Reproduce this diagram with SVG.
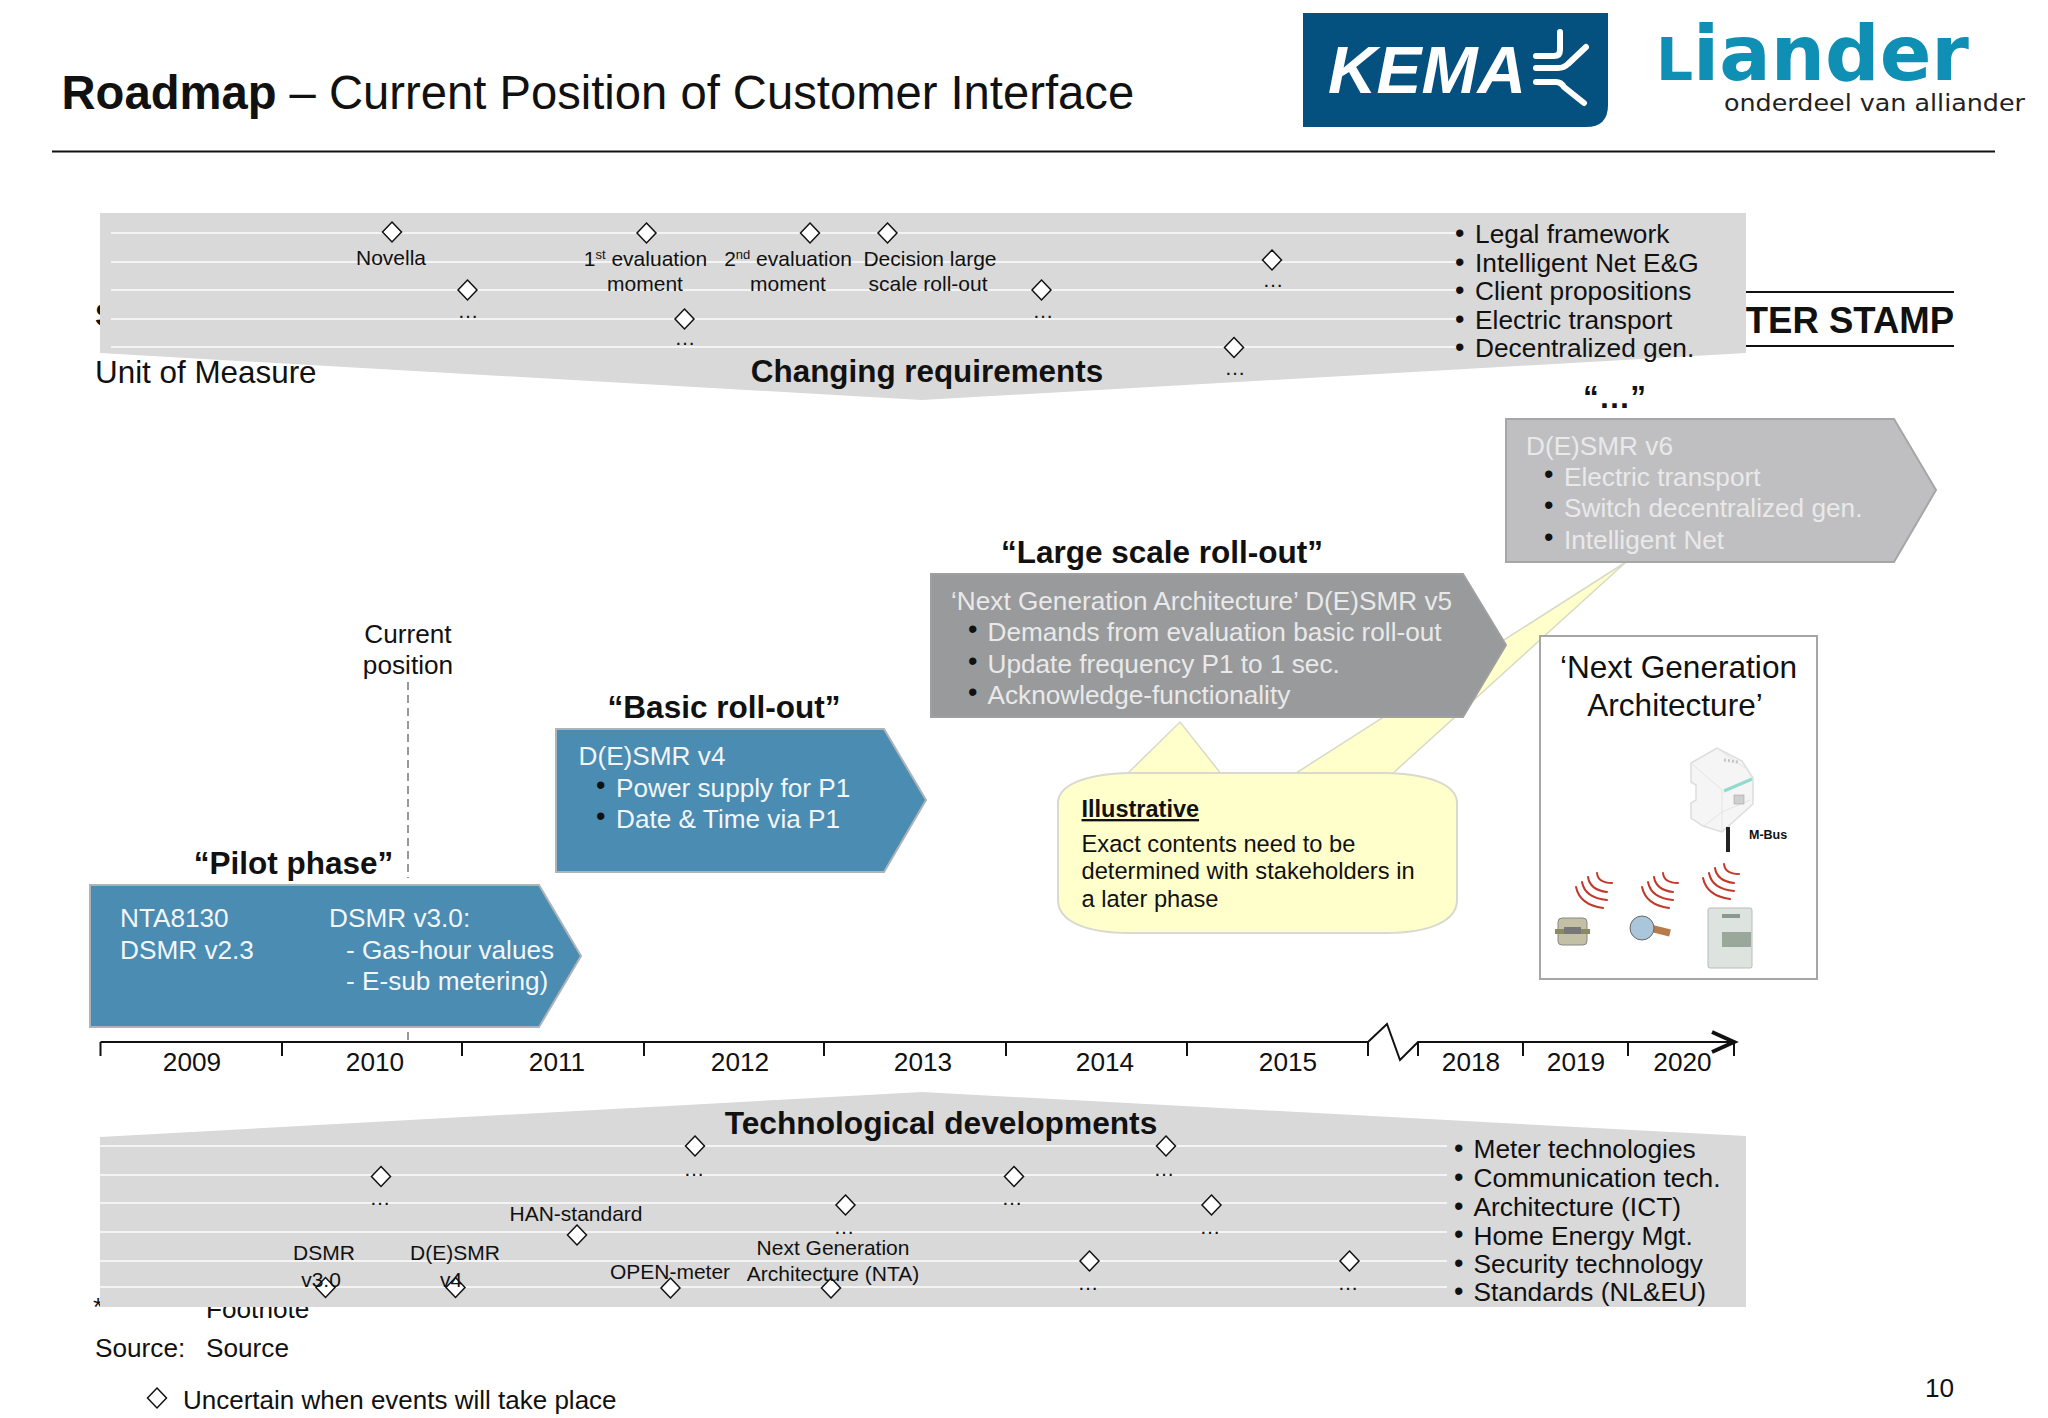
<svg xmlns="http://www.w3.org/2000/svg" width="2048" height="1418" viewBox="0 0 2048 1418">
<defs>
<style>
text{font-family:"Liberation Sans",Arial,sans-serif;fill:#111}
.t26{font-size:26.2px}.t27{font-size:26.3px}.t21{font-size:21px}.t24{font-size:23.7px}
.b{font-weight:bold}.m{text-anchor:middle}
.w{fill:#f2f6f9}.l{fill:#e9e9e9}
.band{fill:#d9d9da}
.rule{stroke:#f4f4f4;stroke-width:2;fill:none}
.dia{fill:#fff;stroke:#111;stroke-width:1.5}
.ax{stroke:#111;stroke-width:2;fill:none}
.arc{stroke:#c0392b;stroke-width:2;fill:none;stroke-linecap:round}
.kema{stroke:#fff;stroke-width:6;fill:none;stroke-linecap:round;stroke-linejoin:round}
.blue{fill:#4a8cb2;stroke:#adb3b7;stroke-width:2}
.bul{font-size:27px}
</style>
<polygon id="d" class="dia" points="0,-10 9.5,0 0,10 -9.5,0"/>
</defs>
<rect width="2048" height="1418" fill="#fff"/>

<g id="title"><text x="61.500" y="109" font-size="47.200"><tspan class="b">Roadmap</tspan> – Current Position of Customer Interface</text>
<line x1="52" y1="151.500" x2="1995" y2="151.500" stroke="#111" stroke-width="2"/></g>

<g id="logo-kema">
<path d="M1303,13H1608V105Q1608,127 1586,127H1303Z" fill="#04507f"/>
<text x="1328" y="93" font-size="67" font-weight="bold" font-style="italic" style="fill:#fff" textLength="198" lengthAdjust="spacingAndGlyphs">KEMA</text>
<path class="kema" d="M1560,32V50Q1560,56 1554,56H1536"/>
<path class="kema" d="M1586,47L1568,64Q1564,68 1558,68H1536"/>
<path class="kema" d="M1536,82H1556Q1561,82 1564,87L1584,103"/>
</g>
<g id="logo-liander">
<text x="1656" y="80" font-size="76" font-weight="bold" style="font-family:'DejaVu Sans',sans-serif;fill:#0f8fb3" textLength="313" lengthAdjust="spacingAndGlyphs"><tspan font-size="58">L</tspan>iander</text>
<text x="1724" y="111" font-size="23" style="font-family:'DejaVu Sans',sans-serif;fill:#222" textLength="301" lengthAdjust="spacingAndGlyphs">onderdeel van alliander</text>
</g>

<g id="placeholders">
<text x="95" y="326" font-size="31" class="b">S</text>
<text x="95" y="383" font-size="31.400">Unit of Measure</text>
<line x1="1700" y1="292" x2="1954" y2="292" stroke="#111" stroke-width="2"/>
<line x1="1700" y1="346" x2="1954" y2="346" stroke="#111" stroke-width="2"/>
<text x="1954" y="333" font-size="36.500" class="b" text-anchor="end">TER STAMP</text>
<text x="93" y="1316" class="t26">*</text>
<text x="206" y="1318" class="t26">Footnote</text>
<text x="95" y="1357" class="t26">Source:</text>
<text x="206" y="1357" class="t26">Source</text>
</g>

<g id="changing-requirements">
<polygon class="band" points="100,213 1746,213 1746,353 922,400 100,353"/>
<path class="rule" d="M111,233H1456M111,262H1456M111,290H1456M111,319H1456M111,347H1456"/>
<use href="#d" x="392" y="232"/><use href="#d" x="646.500" y="233"/><use href="#d" x="810" y="233"/><use href="#d" x="887.500" y="233"/>
<use href="#d" x="467.500" y="290"/><use href="#d" x="684.500" y="319"/><use href="#d" x="1041.500" y="290"/><use href="#d" x="1272" y="260"/><use href="#d" x="1234" y="347.500"/>
<g class="t21">
<text x="391" y="265" class="m">Novella</text>
<text x="645.500" y="266" class="m">1<tspan font-size="13" dy="-7">st</tspan><tspan dy="7"> evaluation</tspan></text>
<text x="645" y="291" class="m">moment</text>
<text x="788" y="266" class="m">2<tspan font-size="13" dy="-7">nd</tspan><tspan dy="7"> evaluation</tspan></text>
<text x="788" y="291" class="m">moment</text>
<text x="930" y="266" class="m">Decision large</text>
<text x="928" y="291" class="m">scale roll-out</text>
<text x="468" y="318" class="m">…</text><text x="685" y="345" class="m">…</text><text x="1043" y="318" class="m">…</text><text x="1273" y="287" class="m">…</text><text x="1235" y="375" class="m">…</text>
</g>
<text x="927" y="382" font-size="31.400" class="b m">Changing requirements</text>
<g class="t27">
<text class="bul" x="1455" y="242">•</text><text x="1475" y="243">Legal framework</text>
<text class="bul" x="1455" y="271">•</text><text x="1475" y="271.500">Intelligent Net E&amp;G</text>
<text class="bul" x="1455" y="299">•</text><text x="1475" y="300">Client propositions</text>
<text class="bul" x="1455" y="328">•</text><text x="1475" y="329">Electric transport</text>
<text class="bul" x="1455" y="356">•</text><text x="1475" y="357">Decentralized gen.</text>
</g>
</g>

<g id="connectors">
<path d="M408,682V878M408,1032V1042" stroke="#777" stroke-width="1.500" stroke-dasharray="8 5" fill="none"/>
<path id="callout-pointers" d="M1126,775L1180,722L1222,775ZM1293,775L1626,562L1391,775Z" fill="#ffffcc" stroke="#d9d9c8" stroke-width="1.500"/>
</g>

<g id="current-position">
<text x="408" y="643" class="t26 m">Current</text>
<text x="408" y="674" class="t26 m">position</text>
</g>

<g id="pilot-phase">
<text x="293.500" y="873.500" font-size="31.500" class="b m">“Pilot phase”</text>
<polygon class="blue" points="90,885 539,885 581,956 539,1027 90,1027"/>
<g class="t26">
<text x="120" y="927" class="w">NTA8130</text><text x="120" y="958.500" class="w">DSMR v2.3</text>
<text x="329" y="927" class="w">DSMR v3.0:</text><text x="346" y="958.500" class="w">- Gas-hour values</text><text x="346" y="990" class="w">- E-sub metering)</text>
</g>
</g>

<g id="basic-rollout">
<text x="724" y="717.500" font-size="31.500" class="b m">“Basic roll-out”</text>
<polygon class="blue" points="556,729 884,729 926,800 884,872 556,872"/>
<g class="t26">
<text x="578.500" y="765" class="w">D(E)SMR v4</text>
<text class="bul" x="596" y="794">•</text><text x="616" y="797" class="w">Power supply for P1</text>
<text class="bul" x="596" y="825">•</text><text x="616" y="828" class="w">Date &amp; Time via P1</text>
</g>
</g>

<g id="large-rollout">
<text x="1162" y="562.500" font-size="31.500" class="b m">“Large scale roll-out”</text>
<polygon points="931,574 1463,574 1506,645 1463,717 931,717" fill="#999a9b" stroke="#a0a0a0" stroke-width="2"/>
<g class="t26">
<text x="951" y="610" class="l">‘Next Generation Architecture’ D(E)SMR v5</text>
<text class="bul" x="968" y="638">•</text><text x="987.500" y="641" class="l">Demands from evaluation basic roll-out</text>
<text class="bul" x="968" y="670">•</text><text x="987.500" y="673" class="l">Update frequency P1 to 1 sec.</text>
<text class="bul" x="968" y="701">•</text><text x="987.500" y="704" class="l">Acknowledge-functionality</text>
</g>
</g>

<g id="future">
<text x="1614.500" y="408" font-size="31.500" class="b m">“…”</text>
<polygon points="1506,419 1894,419 1936,490 1894,562 1506,562" fill="#bfbfc1" stroke="#a6a6a6" stroke-width="2"/>
<g class="t26">
<text x="1526" y="454.500" class="l">D(E)SMR v6</text>
<text class="bul" x="1544" y="483">•</text><text x="1564" y="486" class="l">Electric transport</text>
<text class="bul" x="1544" y="514">•</text><text x="1564" y="517" class="l">Switch decentralized gen.</text>
<text class="bul" x="1544" y="546">•</text><text x="1564" y="549" class="l">Intelligent Net</text>
</g>
</g>

<g id="illustrative-callout">
<path d="M1130,773H1385C1430,774 1457,785 1457,803V900C1457,921 1430,933 1385,933H1130C1085,933 1058,921 1058,900V803C1058,785 1085,774 1130,773Z" fill="#ffffcc" stroke="#d9d9cf" stroke-width="2"/>
<text x="1081.500" y="817" class="b" text-decoration="underline" style="font-size:23.500px">Illustrative</text>
<text x="1081.500" y="851.500" class="t24">Exact contents need to be</text>
<text x="1081.500" y="879" class="t24">determined with stakeholders in</text>
<text x="1081.500" y="907" class="t24">a later phase</text>
</g>

<g id="next-gen-architecture">
<rect x="1540" y="636" width="277" height="343" fill="#fff" stroke="#a6a6a6" stroke-width="2"/>
<text x="1678.500" y="678" font-size="31.600" class="m">‘Next Generation</text>
<text x="1675" y="716" font-size="31.600" class="m">Architecture’</text>
<path d="M1691,763L1717,748L1742,761L1753,778V804L1722,832L1703,826L1691,818V803L1696,800V785L1691,782Z" fill="#f5f5f5" stroke="#ddd" stroke-width="1.500"/>
<path d="M1691,763L1722,790V832M1717,748L1745,768M1704,826L1722,812L1750,800" fill="none" stroke="#e4e4e4"/>
<line x1="1724" y1="791" x2="1752" y2="779" stroke="#8fdccf" stroke-width="3"/>
<rect x="1734" y="795" width="10" height="9" fill="#cfcfcf" stroke="#999" stroke-width=".5"/>
<path d="M1724,760L1738,762" stroke="#c4c4c4" stroke-width="3" stroke-dasharray="2 2"/>
<line x1="1728" y1="827" x2="1728" y2="852" stroke="#222" stroke-width="4"/>
<text x="1749" y="839" font-size="12.500" class="b">M-Bus</text>
<g id="arcs-1"><path class="arc" d="M1597,873Q1598,883 1612,883M1588,877Q1590,890 1607,892M1582,882Q1585,898 1607,900M1576,887Q1580,905 1603,908"/></g>
<g transform="translate(66,0)"><path class="arc" d="M1597,873Q1598,883 1612,883M1588,877Q1590,890 1607,892M1582,882Q1585,898 1607,900M1576,887Q1580,905 1603,908"/></g>
<g transform="translate(127,-9)"><path class="arc" d="M1597,873Q1598,883 1612,883M1588,877Q1590,890 1607,892M1582,882Q1585,898 1607,900M1576,887Q1580,905 1603,908"/></g>
<rect x="1558" y="918" width="29" height="27" rx="4" fill="#c4c0a6" stroke="#888"/>
<rect x="1555" y="929" width="35" height="5" fill="#8a8a60"/>
<rect x="1564" y="927" width="17" height="7" fill="#777"/>
<path d="M1650,928L1670,933" stroke="#b87a4a" stroke-width="7"/>
<circle cx="1642" cy="928" r="12" fill="#a9c6da" stroke="#666"/>
<rect x="1708" y="908" width="44" height="60" rx="2" fill="#dde3df" stroke="#bbb"/>
<rect x="1722" y="932" width="29" height="15" fill="#9aa89c"/>
<rect x="1722" y="914" width="18" height="4" fill="#8a9a8f"/>
</g>

<g id="timeline">
<path class="ax" d="M100.500,1042H1368L1387,1024L1400,1060L1418,1042H1733"/>
<path class="ax" d="M100.500,1042V1056M282,1042V1056M462,1042V1056M644,1042V1056M824,1042V1056M1006,1042V1056M1187,1042V1056M1368,1042V1056M1418,1042V1056M1523,1042V1056M1628,1042V1056M1734,1042V1056"/>
<path d="M1712,1032L1734,1042L1712,1052" fill="none" stroke="#111" stroke-width="4"/>
<g class="t26">
<text x="192" y="1071" class="m">2009</text><text x="375" y="1071" class="m">2010</text><text x="557" y="1071" class="m">2011</text><text x="740" y="1071" class="m">2012</text><text x="923" y="1071" class="m">2013</text><text x="1105" y="1071" class="m">2014</text><text x="1288" y="1071" class="m">2015</text><text x="1471" y="1071" class="m">2018</text><text x="1576" y="1071" class="m">2019</text><text x="1682.500" y="1071" class="m">2020</text>
</g>
</g>

<g id="technological-developments">
<polygon class="band" points="100,1137 922,1092 1746,1136 1746,1307 100,1307"/>
<path class="rule" d="M100,1146H1447M100,1175H1447M100,1203H1447M100,1232H1447M100,1261H1447M100,1287H1447"/>
<use href="#d" x="381" y="1176.500"/><use href="#d" x="695" y="1146"/><use href="#d" x="1014" y="1176.500"/><use href="#d" x="1166" y="1146"/><use href="#d" x="845.500" y="1205"/><use href="#d" x="1211.500" y="1205"/><use href="#d" x="577" y="1235"/><use href="#d" x="1089.500" y="1261"/><use href="#d" x="1349.500" y="1261"/><use href="#d" x="325.500" y="1287.500"/><use href="#d" x="455.500" y="1287.500"/><use href="#d" x="670.500" y="1288"/><use href="#d" x="831" y="1288"/>
<g class="t21">
<text x="380" y="1205" class="m">…</text><text x="694" y="1176" class="m">…</text><text x="1012" y="1205" class="m">…</text><text x="1164" y="1176" class="m">…</text><text x="844" y="1234" class="m">…</text><text x="1210" y="1234" class="m">…</text><text x="1088" y="1290" class="m">…</text><text x="1348" y="1290" class="m">…</text>
<text x="576" y="1221" class="m">HAN-standard</text>
<text x="324" y="1260" class="m">DSMR</text><text x="321" y="1287" class="m">v3.0</text>
<text x="455" y="1260" class="m">D(E)SMR</text><text x="451" y="1287" class="m">v4</text>
<text x="670" y="1279" class="m">OPEN-meter</text>
<text x="833" y="1255" class="m">Next Generation</text><text x="833" y="1281" class="m">Architecture (NTA)</text>
</g>
<text x="941" y="1134" font-size="31.700" class="b m">Technological developments</text>
<g class="t27">
<text class="bul" x="1454" y="1157">•</text><text x="1473.500" y="1158">Meter technologies</text>
<text class="bul" x="1454" y="1186">•</text><text x="1473.500" y="1187">Communication tech.</text>
<text class="bul" x="1454" y="1215">•</text><text x="1473.500" y="1216">Architecture (ICT)</text>
<text class="bul" x="1454" y="1243">•</text><text x="1473.500" y="1244.500">Home Energy Mgt.</text>
<text class="bul" x="1454" y="1272">•</text><text x="1473.500" y="1273">Security technology</text>
<text class="bul" x="1454" y="1300">•</text><text x="1473.500" y="1301">Standards (NL&amp;EU)</text>
</g>
</g>

<g id="legend">
<use href="#d" x="157" y="1398"/>
<text x="183" y="1409" font-size="26">Uncertain when events will take place</text>
<text x="1925" y="1397" class="t26">10</text>
</g>
</svg>
